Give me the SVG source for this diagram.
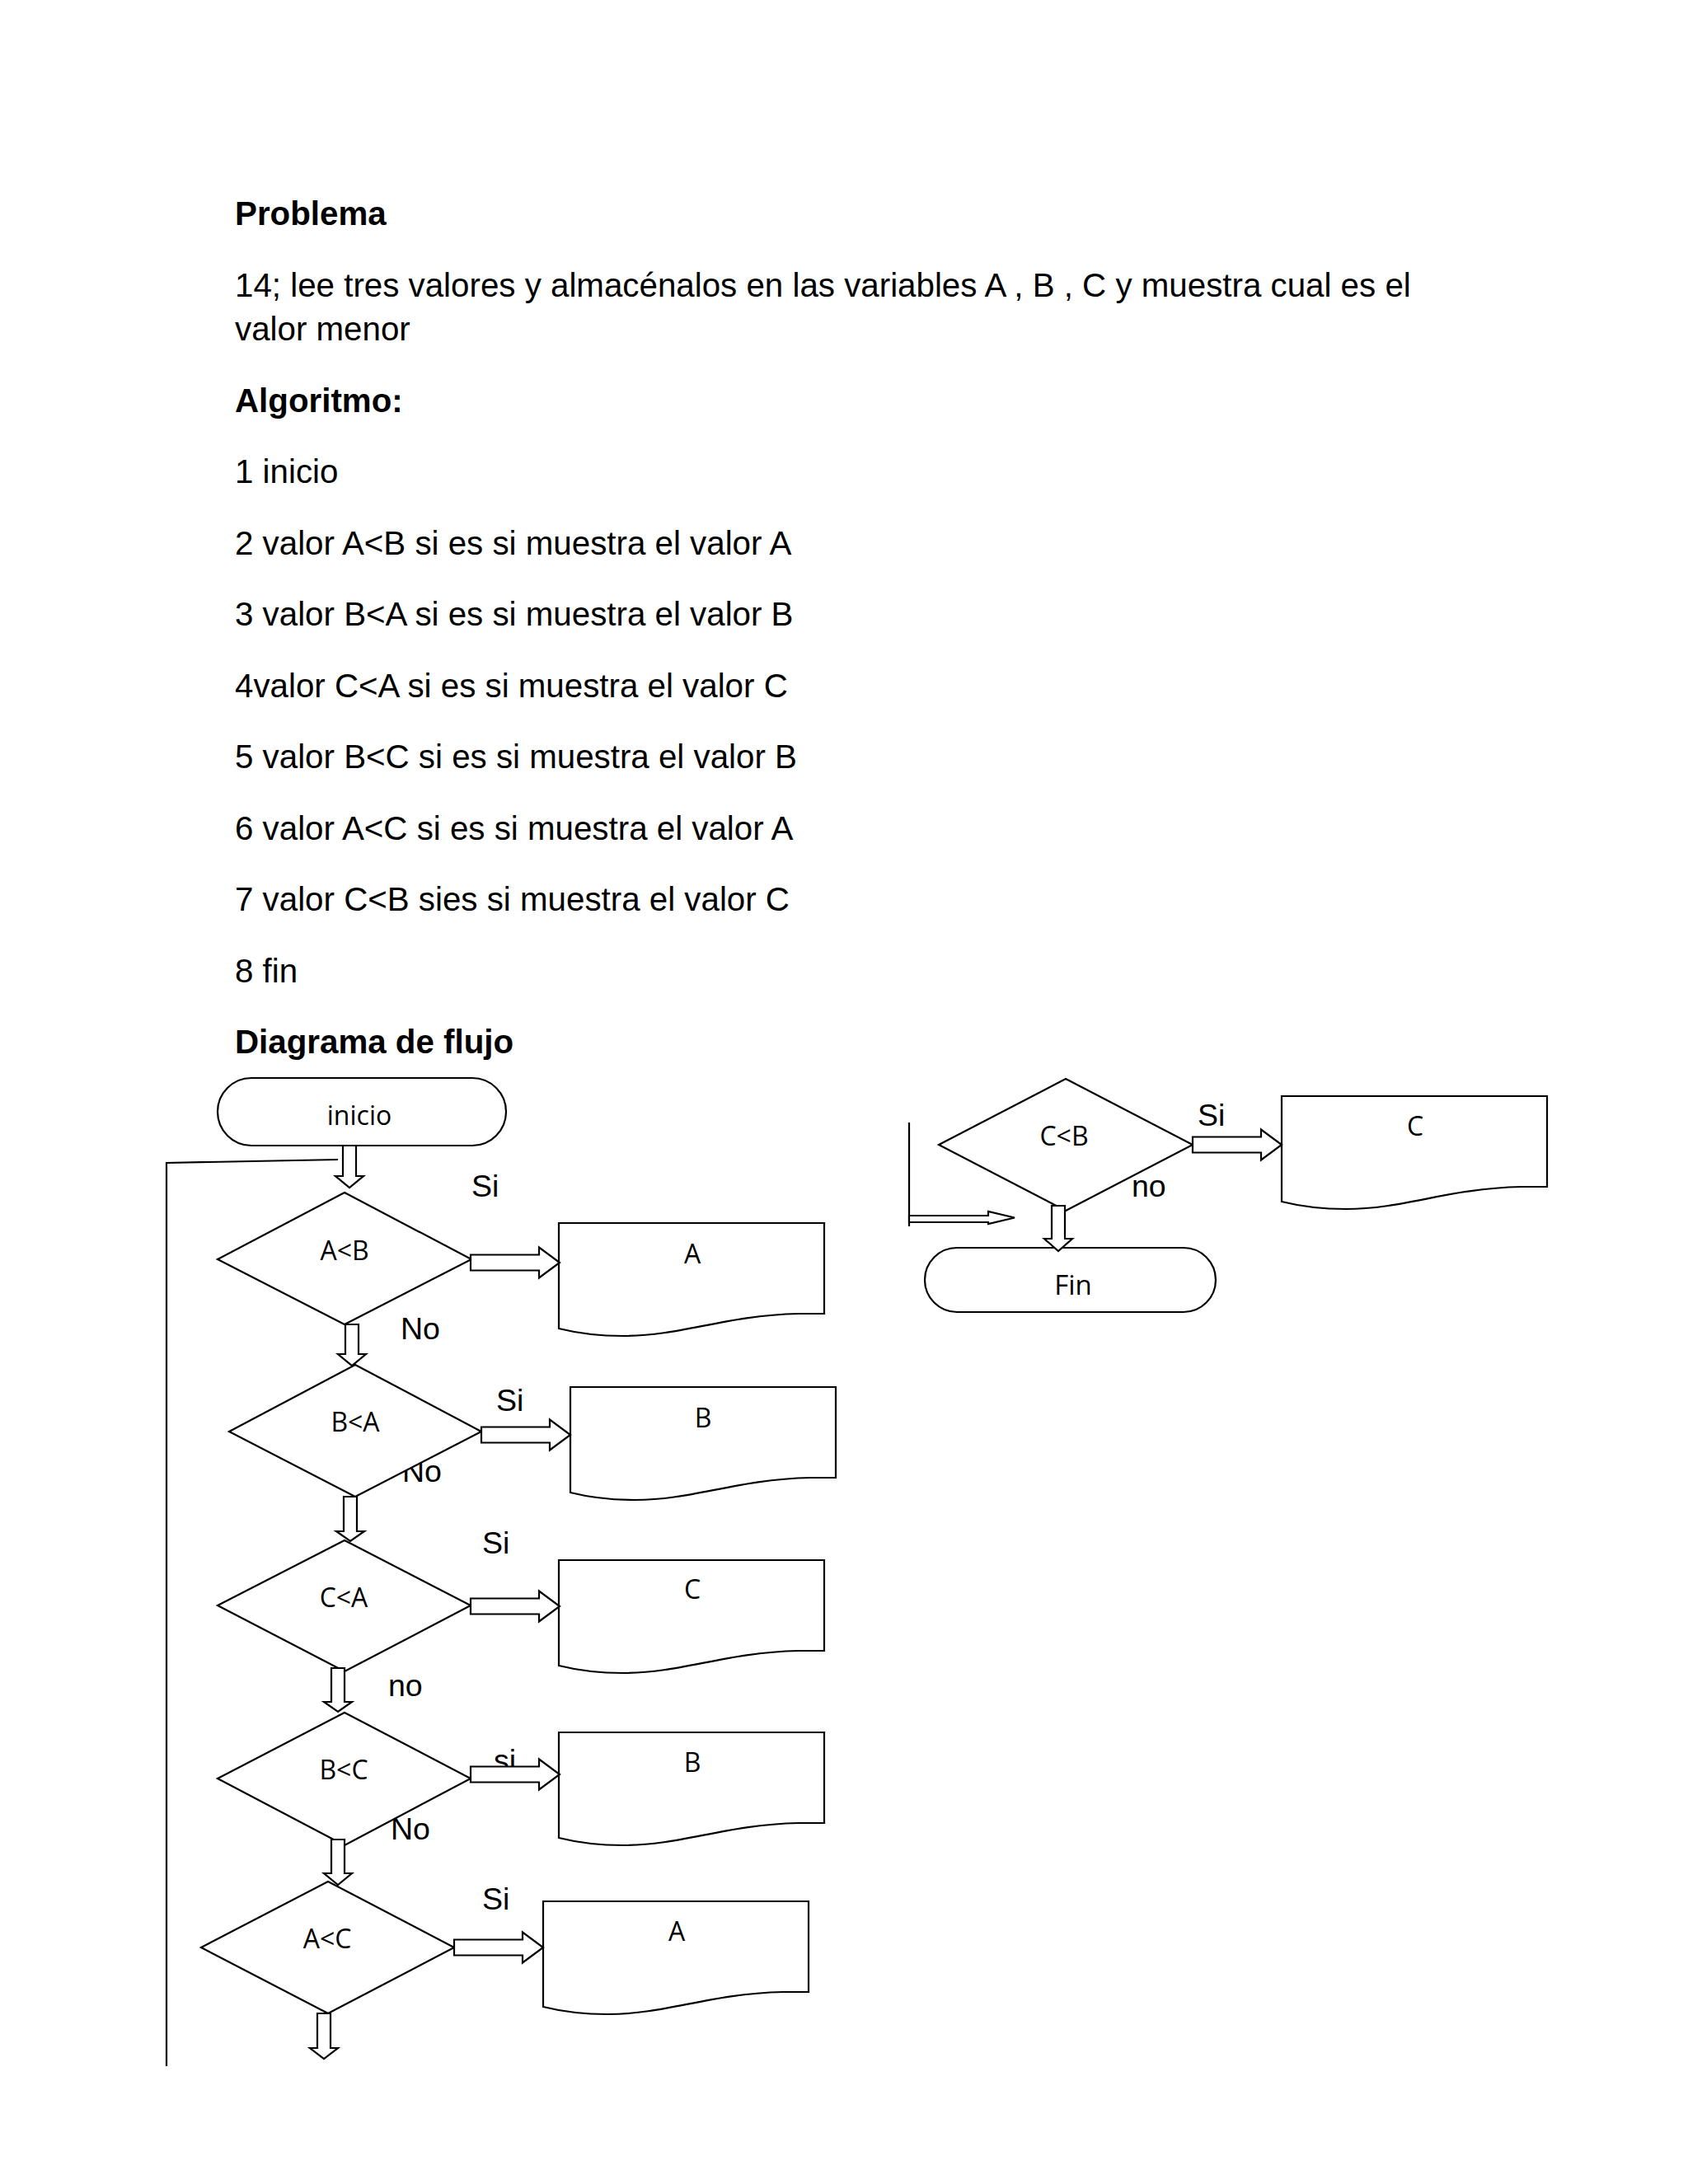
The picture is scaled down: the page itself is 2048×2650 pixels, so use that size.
<svg xmlns="http://www.w3.org/2000/svg" xmlns:xlink="http://www.w3.org/1999/xlink" width="2048" height="2650" viewBox="0 0 2048 2650">
<style>
.doc{font-family:"Liberation Sans",Arial,sans-serif;font-size:40.3px;fill:#000}
.b{font-weight:bold}
.lbl{font-family:"Liberation Sans",Arial,sans-serif;font-size:37.5px;fill:#000}
.st{font-family:"Open Sans","Noto Sans",sans-serif;font-size:32px;fill:#000;text-anchor:middle}
.shape{fill:#fff;stroke:#000;stroke-width:2.2;stroke-linejoin:miter}
.line{fill:none;stroke:#000;stroke-width:2.2}
</style>
<defs>
<path id="rarrow" d="M0,-9.5 H83 V-18.5 L108,0 L83,18.5 V9.5 H0 Z"/>
<path id="docshape" d="M0,0 H322 V110 H291 C200,112 150,137 78,137 C45,137 20,133 0,128 Z"/>
</defs>
<rect width="2048" height="2650" fill="#fff"/>

<g id="text-block">
<text class="doc b" x="285" y="273">Problema</text>
<text class="doc" x="285" y="360">14; lee tres valores y almacénalos en las variables A , B , C y muestra cual es el</text>
<text class="doc" x="285" y="413">valor menor</text>
<text class="doc b" x="285" y="500">Algoritmo:</text>
<text class="doc" x="285" y="586">1 inicio</text>
<text class="doc" x="285" y="673">2 valor A&lt;B si es si muestra el valor A</text>
<text class="doc" x="285" y="759">3 valor B&lt;A si es si muestra el valor B</text>
<text class="doc" x="285" y="846">4valor C&lt;A si es si muestra el valor C</text>
<text class="doc" x="285" y="932">5 valor B&lt;C si es si muestra el valor B</text>
<text class="doc" x="285" y="1019">6 valor A&lt;C si es si muestra el valor A</text>
<text class="doc" x="285" y="1105">7 valor C&lt;B sies si muestra el valor C</text>
<text class="doc" x="285" y="1192">8 fin</text>
<text class="doc b" x="285" y="1278">Diagrama de flujo</text>
</g>

<g id="edge-labels">
<text class="lbl" x="572" y="1452">Si</text>
<text class="lbl" x="486" y="1625">No</text>
<text class="lbl" x="602" y="1712">Si</text>
<text class="lbl" x="488" y="1798">No</text>
<text class="lbl" x="585" y="1885">Si</text>
<text class="lbl" x="471" y="2058">no</text>
<text class="lbl" x="599" y="2149">si</text>
<text class="lbl" x="474" y="2232">No</text>
<text class="lbl" x="585" y="2317">Si</text>
<text class="lbl" x="1453" y="1366">Si</text>
<text class="lbl" x="1373" y="1452">no</text>
</g>

<g id="node-inicio">
<rect class="shape" x="264" y="1308" width="350" height="82" rx="41" ry="41"/>
<text class="st" x="436" y="1365">inicio</text>
</g>
<g id="node-d1">
<polygon class="shape" points="418,1447 572,1528 418,1607 264,1528"/>
<text class="st" x="418" y="1529">A&lt;B</text>
</g>
<g id="node-outA1">
<use class="shape" href="#docshape" x="678" y="1484"/>
<text class="st" x="840" y="1533">A</text>
</g>
<g id="node-d2">
<polygon class="shape" points="431,1656 584,1737 431,1816 278,1737"/>
<text class="st" x="431" y="1737">B&lt;A</text>
</g>
<g id="node-outB1">
<use class="shape" href="#docshape" x="692" y="1683"/>
<text class="st" x="853" y="1732">B</text>
</g>
<g id="node-d3">
<polygon class="shape" points="418,1869 571,1948 418,2028 264,1948"/>
<text class="st" x="417" y="1950">C&lt;A</text>
</g>
<g id="node-outC1">
<use class="shape" href="#docshape" x="678" y="1893"/>
<text class="st" x="840" y="1940">C</text>
</g>
<g id="node-d4">
<polygon class="shape" points="418,2078 571,2158 418,2239 264,2158"/>
<text class="st" x="417" y="2159">B&lt;C</text>
</g>
<g id="node-outB2">
<use class="shape" href="#docshape" x="678" y="2102"/>
<text class="st" x="840" y="2150">B</text>
</g>
<g id="node-d5">
<polygon class="shape" points="398,2283 551,2363 398,2443 244,2363"/>
<text class="st" x="397" y="2364">A&lt;C</text>
</g>
<g id="node-outA2">
<use class="shape" href="#docshape" x="659" y="2307"/>
<text class="st" x="821" y="2355">A</text>
</g>
<g id="node-d6">
<polygon class="shape" points="1293,1309 1447,1389 1293,1469 1139,1389"/>
<text class="st" x="1291" y="1390">C&lt;B</text>
</g>
<g id="node-outC2">
<use class="shape" href="#docshape" x="1555" y="1330"/>
<text class="st" x="1717" y="1378">C</text>
</g>
<g id="node-fin">
<rect class="shape" x="1122" y="1514" width="353" height="78" rx="39" ry="39"/>
<text class="st" x="1302" y="1571" style="font-size:33px">Fin</text>
</g>

<g id="connectors">
<path class="line" d="M410,1407 L202,1411 L202,2507"/>
<path class="line" d="M1103,1362 V1488"/>
<path class="shape" d="M1103,1475 H1199 V1470 L1231,1477.5 L1199,1485 V1483 H1103 Z"/>
<path class="shape" d="M416,1390 H432 V1427 H441 L424,1441 L407,1427 H416 Z"/>
<path class="shape" d="M419,1607 H435 V1643 H444 L427,1657 L410,1643 H419 Z"/>
<path class="shape" d="M417,1816 H433 V1858 H442 L425,1870 L408,1858 H417 Z"/>
<path class="shape" d="M402,2024 H418 V2065 H427 L410,2077 L393,2065 H402 Z"/>
<path class="shape" d="M402,2232 H418 V2273 H427 L410,2287 L393,2273 H402 Z"/>
<path class="shape" d="M385,2443 H401 V2485 H410 L393,2498 L376,2485 H385 Z"/>
<path class="shape" d="M1276,1463 H1292 V1503 H1301 L1284,1518 L1267,1503 H1276 Z"/>
<use class="shape" href="#rarrow" x="571" y="1532"/>
<use class="shape" href="#rarrow" x="584" y="1741"/>
<use class="shape" href="#rarrow" x="571" y="1949"/>
<use class="shape" href="#rarrow" x="571" y="2153"/>
<use class="shape" href="#rarrow" x="551" y="2363"/>
<use class="shape" href="#rarrow" x="1447" y="1389"/>
</g>
</svg>
